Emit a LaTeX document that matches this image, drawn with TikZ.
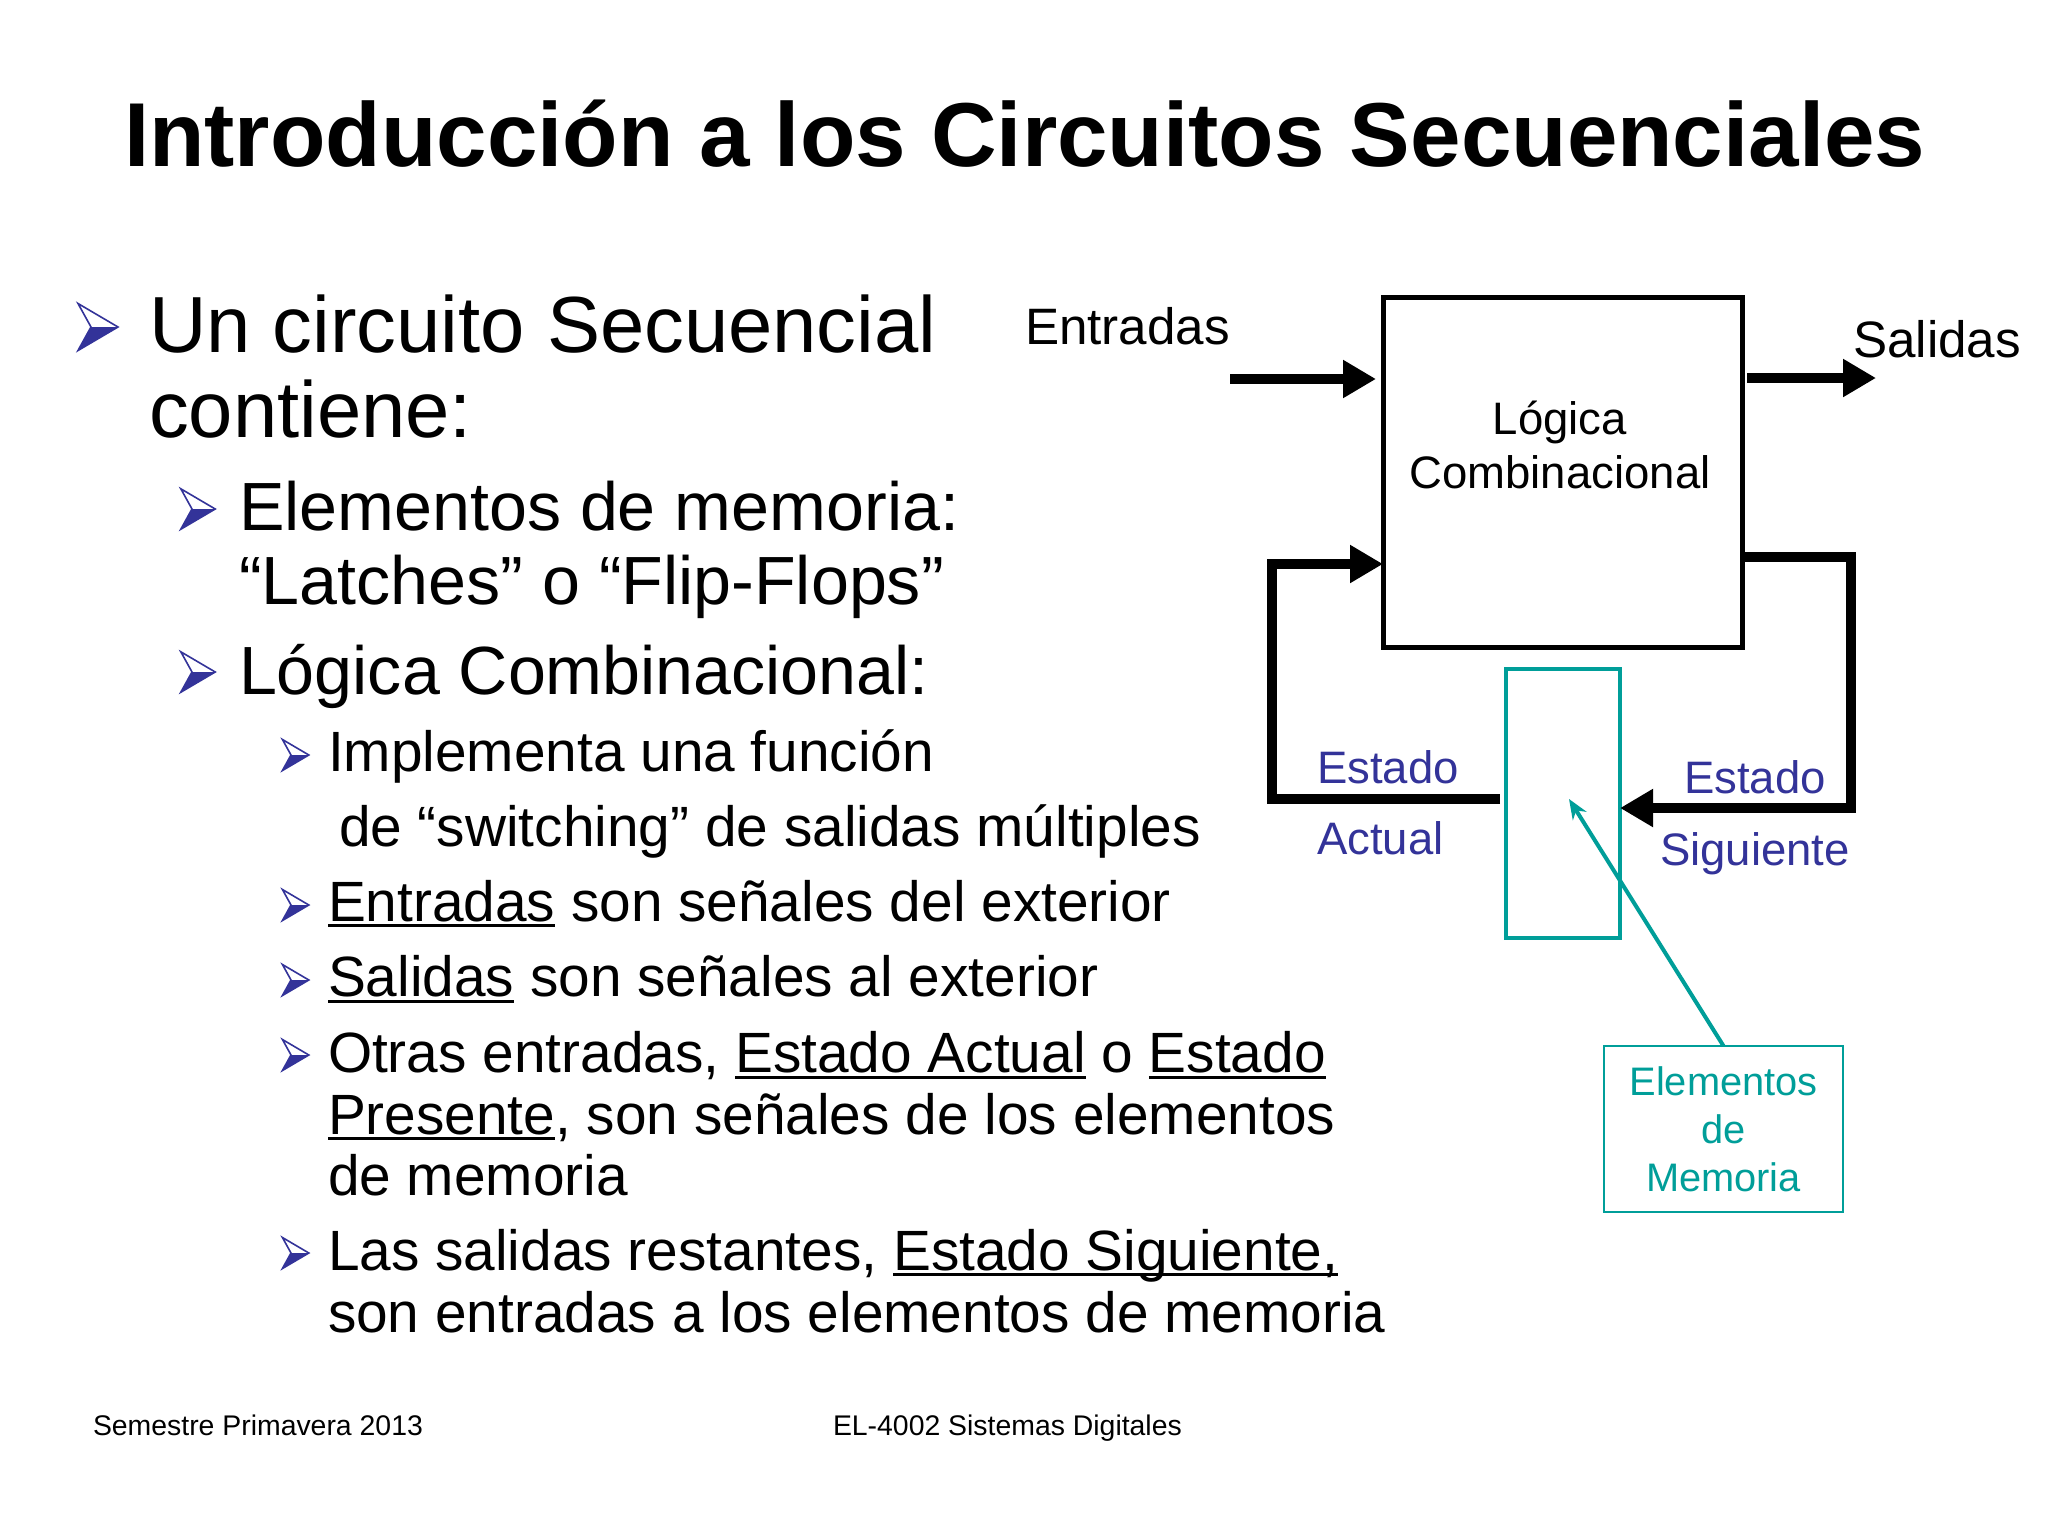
\documentclass[tikz,border=0pt]{standalone}
\usepackage{fontspec}
\setmainfont{Liberation Sans}
\usetikzlibrary{arrows.meta,calc}
\definecolor{bulletblue}{HTML}{333399}
\definecolor{memteal}{HTML}{009E99}
\newcommand{\fsz}[1]{\fontsize{#1pt}{1.2\dimexpr #1pt\relax}\selectfont}
\newsavebox{\ulbox}
\newcommand{\ul}[1]{\sbox{\ulbox}{#1}\rlap{\rule[-3pt]{\wd\ulbox}{1.3pt}}\usebox{\ulbox}}
\newcommand{\chev}[3]{%
  \begin{scope}[shift={(#1,#2)},scale=#3]
    \fill[bulletblue] (0,0) -- (27,0) -- (-13,23.5) -- cycle;
    \draw[bulletblue,line width=0.8pt,line join=miter] (0,0) -- (-13,-23.5) -- (27,0) -- (-13,23.5) -- cycle;
  \end{scope}}
\tikzset{
  x=0.5pt,y=-0.5pt,
  txt/.style={anchor=base west,inner sep=0pt,outer sep=0pt},
  titletxt/.style={txt,font=\fsz{45.4}\bfseries},
  lone/.style={txt,font=\fsz{39.8}},
  ltwo/.style={txt,font=\fsz{34.1}},
  lthree/.style={txt,font=\fsz{28.4}},
  foot/.style={txt,font=\fsz{14.2}},
  side/.style={txt,font=\fsz{25.6}},
  stat/.style={txt,font=\fsz{22.75},text=bulletblue},
  logicbox/.style={draw=black,line width=2.5pt,minimum width=179.5pt,minimum height=175pt,inner sep=0pt,outer sep=0pt},
  membox/.style={draw=memteal,line width=2.4pt,minimum width=57pt,minimum height=134.5pt,inner sep=0pt,outer sep=0pt},
  notebox/.style={draw=memteal,line width=1pt,minimum width=119.5pt,minimum height=83pt,inner sep=0pt,outer sep=0pt,align=center,text=memteal,font=\fontsize{19.9pt}{24pt}\selectfont},
  sig/.style={line width=5pt,line join=miter,-{Triangle[length=16.5pt,width=18pt]}},
  notearrow/.style={draw=memteal,line width=2pt,-{Stealth[length=10pt,width=8pt]}},
}
\begin{document}
\begin{tikzpicture}
\useasboundingbox (0,0) rectangle (2048,1536);
\fill[white] (0,0) rectangle (2048,1536);
% title
\node[titletxt] (title) at (124,166) {Introducción a los Circuitos Secuenciales};
% body
\chev{91}{327}{1}
\node[lone] (a1) at (149,352) {Un circuito Secuencial};
\node[lone] (a2) at (149,437) {contiene:};
\chev{192}{509}{0.86}
\node[ltwo] (b1) at (239,530) {Elementos de memoria:};
\node[ltwo] (b2) at (239,604) {“Latches” o “Flip-Flops”};
\chev{192}{672}{0.86}
\node[ltwo] (b3) at (239,694) {Lógica Combinacional:};
\chev{291}{755}{0.66}
\node[lthree] (c1) at (328,771) {Implementa una función};
\node[lthree] (c2) at (339,846.5) {de “switching” de salidas múltiples};
\chev{291}{905}{0.66}
\node[lthree] (c3) at (328,921) {\ul{Entradas} son señales del exterior};
\chev{291}{980}{0.66}
\node[lthree] (c4) at (328,996.5) {\ul{Salidas} son señales al exterior};
\chev{291}{1055}{0.66}
\node[lthree] (c5) at (328,1072.5) {Otras entradas, \ul{Estado Actual} o \ul{Estado}};
\node[lthree] (c6) at (328,1134) {\ul{Presente}, son señales de los elementos};
\node[lthree] (c7) at (328,1195.5) {de memoria};
\chev{291}{1253}{0.66}
\node[lthree] (c8) at (328,1270) {Las salidas restantes, \ul{Estado Siguiente,}};
\node[lthree] (c9) at (328,1332) {son entradas a los elementos de memoria};
% footer
\node[foot] (f1) at (93,1435.5) {Semestre Primavera 2013};
\node[foot] (f2) at (833,1435.5) {EL-4002 Sistemas Digitales};
% diagram
\node[logicbox] (logic) at (1562.5,472) {};
\node[membox] (mem) at (1563,803.5) {};
\node[notebox] (note) at (1723.5,1129) {Elementos\\de\\Memoria};
\node[anchor=center,inner sep=0pt,align=center,font=\fontsize{22.75pt}{27pt}\selectfont] (logiclbl) at (1560,445) {Lógica\\Combinacional};
\node[side] (ent) at (1025,344) {Entradas};
\node[side] (sal) at (1853,357) {Salidas};
\node[stat] (ea1) at (1317,783) {Estado};
\node[stat] (ea2) at (1317,854) {Actual};
\node[stat] (es1) at (1684,793) {Estado};
\node[stat] (es2) at (1660,865) {Siguiente};
\coordinate (inA) at (1230,379);
\coordinate (inB) at (1376,379);
\coordinate (outA) at (1747,378);
\coordinate (outB) at (1876,378);
\coordinate (fbR) at (1851,557);
\coordinate (fbL) at (1272,564);
\coordinate (nsY) at (1851,808);
\coordinate (psY) at (1272,799);
\coordinate (noteTip) at (1569,799);
\draw[sig] (inA) -- (inB);
\draw[sig] (outA) -- (outB);
\draw[sig] (mem.west |- psY) ++(-6,0) -- (psY) -- (fbL) -- (logic.west |- fbL);
\draw[sig] (logic.east |- fbR) -- (fbR) -- (nsY) -- (mem.east |- nsY);
\draw[notearrow] (note.north) -- (noteTip);
\end{tikzpicture}
\end{document}
